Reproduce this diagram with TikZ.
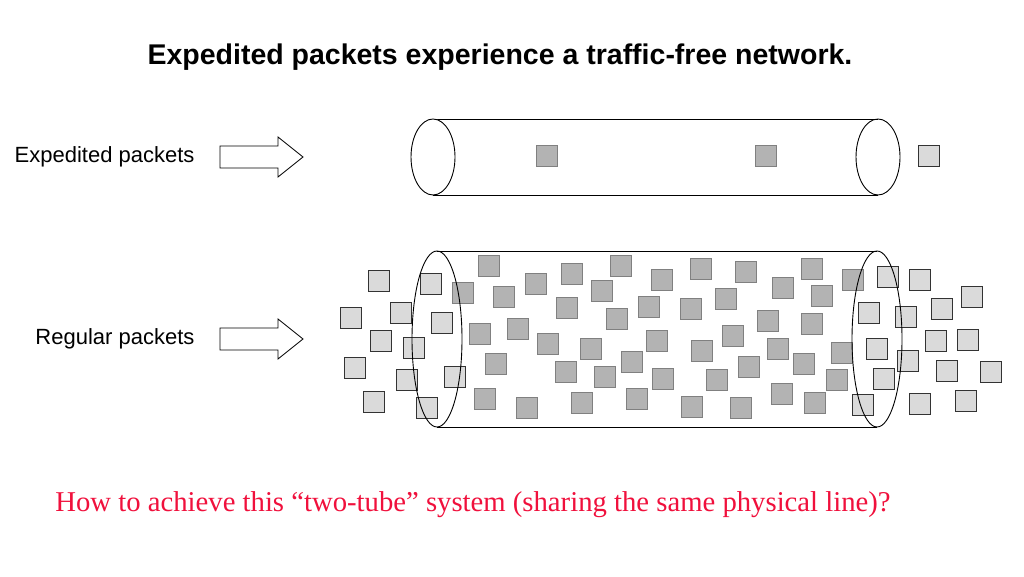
\documentclass[tikz,border=0pt]{standalone}
\usepackage{fontspec}
\setmainfont{Liberation Sans}
\newfontfamily\serifr{Liberation Serif}
\definecolor{dk}{HTML}{B3B3B3}
\definecolor{dkb}{HTML}{808080}
\definecolor{lt}{HTML}{DADADA}
\definecolor{rd}{HTML}{F0103C}
\begin{document}
\begin{tikzpicture}[x=1pt,y=-1pt,
  dpk/.style={draw=dkb,fill=dk,line width=1.3pt,minimum size=21pt,inner sep=0pt},
  lpk/.style={draw=black!80,fill=lt,line width=1.3pt,minimum size=21pt,inner sep=0pt},
  lbl/.style={font=\fontsize{22}{26}\selectfont,anchor=east},
  barrow/.style={draw,line width=0.8pt}]
\useasboundingbox (0,0) rectangle (1024,577);
\node[font=\bfseries\fontsize{28.5}{32}\selectfont] (title) at (500,57) {Expedited packets experience a traffic-free network.};
\node[lbl] (l1) at (198,157) {Expedited packets};
\node[lbl] (l2) at (198,339) {Regular packets};
\foreach \y in {157,339}{
  \draw[barrow] (220,\y-11) -- (278,\y-11) -- (278,\y-20) -- (303,\y) -- (278,\y+20) -- (278,\y+11) -- (220,\y+11) -- cycle;}
% top tube
\draw[line width=0.9pt] (433,119) -- (878,119) (433,195) -- (878,195);
\draw[line width=0.9pt,fill=white] (433,157) ellipse [x radius=22,y radius=38];
\draw[line width=0.9pt] (878,157) ellipse [x radius=22,y radius=38];
\node[dpk] (t1) at (547,156) {};
\node[dpk] (t2) at (766,156) {};
\node[lpk] (t3) at (929,156) {};
% bottom tube
\draw[line width=0.9pt] (437,251) -- (877,251) (437,427) -- (877,427);
\foreach \p in {(463,293),(489,266),(504,297),(536,284),(572,274),(621,266),(662,280),(480,334),(518,329),(567,308),(602,291),(617,319),(649,307),(548,344),(591,349),(496,364),(566,372),(605,377),(632,362),(657,341),(663,379),(485,399),(527,408),(582,403),(637,399),(701,269),(746,272),(812,269),(783,288),(822,296),(853,280),(726,299),(691,309),(768,321),(812,324),(733,336),(702,351),(778,349),(842,353),(749,367),(804,364),(717,380),(837,380),(782,394),(815,403),(692,407),(741,408)}
  \node[dpk] at \p {};
\foreach \p in {(379,281),(351,318),(381,341),(355,368),(374,402),(401,313),(414,348),(407,380),(431,284),(442,323),(427,408),(455,377),(863,405),(888,277),(920,280),(972,297),(942,309),(869,313),(906,317),(968,340),(936,341),(877,349),(908,361),(884,379),(947,371),(991,372),(920,404),(966,401)}
  \node[lpk] at \p {};
\draw[line width=0.9pt] (437,339) ellipse [x radius=25,y radius=88];
\draw[line width=0.9pt] (877,339) ellipse [x radius=25,y radius=88];
\node[text=rd,font=\serifr\fontsize{28.7}{32}\selectfont] (q) at (473,505) {How to achieve this “two-tube” system (sharing the same physical line)?};
\end{tikzpicture}
\end{document}
